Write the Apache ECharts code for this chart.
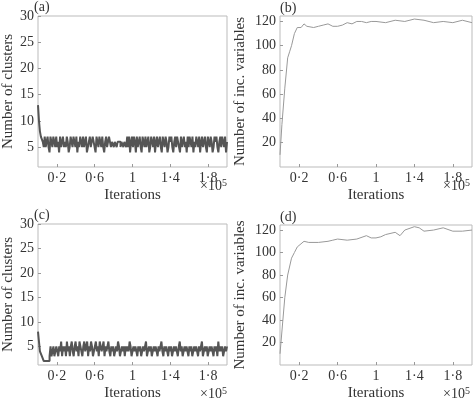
<!DOCTYPE html>
<html><head><meta charset="utf-8">
<script src="https://cdn.jsdelivr.net/npm/echarts@6/dist/echarts.min.js"></script>
<style>html,body{margin:0;padding:0;background:#fff}#c{width:474px;height:402px}</style>
</head><body><div id="c"></div>
<script>
const xTicks=[0.2,0.6,1,1.4,1.8];
const clusterTicks=[5,10,15,20,25,30];
const varTicks=[20,40,60,80,100,120];
const clustersA=[13,10,8,7,7,
6,5,7,5,6,7,5,4,7,6,5,7,6,5,7,5,6,4,7,5,6,7,5,6,5,7,6,4,5,7,6,5,7,6,5,7,4,6,5,7,6,5,7,5,6,7,4,5,6,7,5,6,7,6,5,4,7,6,5,7,6,5,7,5,4,6,7,5,6,7,
6,5,6,6,5,6,6,5,6,6,6,5,6,6,5,6,6,5,
7,5,7,4,6,7,5,7,6,4,7,5,6,7,5,4,7,6,5,7,5,6,7,4,5,7,6,5,7,4,6,7,5,6,7,5,4,7,6,5,7,6,4,5,7,6,7,5,4,6,7,5,7,6,5,4,7,5,6,7,5,6,4,7,5,7,6,5,7,4,6,5,7,6,5,7,4,6,7,5,6,7,5,4,7,6,5,7,6,4,5,7,6,7,5,4,6,7,5,7,6,5,7,4,6];
const clustersC=[8,6,4,4,3,3,2,2,2,2,2,2,3,5,3,4,5,3,4,5,4,3,5,4,6,3,5,4,5,3,6,4,5,3,5,6,4,3,5,6,4,5,3,6,5,4,3,5,6,4,5,6,3,5,4,6,5,3,4,5,6,4,5,3,6,5,4,5,6,3,5,4,5,6,4,3,5,4,5,3,4,5,4,6,5,3,4,5,4,5,3,5,4,5,4,6,5,3,4,5,4,5,4,3,5,4,5,3,4,5,4,5,6,3,4,5,4,5,3,4,5,4,5,4,3,5,4,5,6,4,3,5,4,5,4,3,5,4,5,3,4,5,4,5,4,3,5,6,4,5,3,4,5,4,5,4,3,5,4,5,3,4,5,4,5,4,3,5,4,5,6,3,4,5,4,5,3,4,5,4,5,4,3,5,4,5,3,6,4,5,4,5,3,4,5,4,5];
const varXB=[0,0.02,0.05,0.08,0.1,0.12,0.15,0.18,0.2,0.22,0.25,0.28,0.3,0.35,0.4,0.45,0.5,0.55,0.6,0.65,0.7,0.75,0.8,0.85,0.9,0.95,1.0,1.1,1.2,1.3,1.4,1.5,1.6,1.7,1.8,1.9,2.0];
const varB=[10,35,65,90,95,100,110,115,116,115,118,116,115,115,116,117,118,116,116,117,119,118,120,120,119,120,120,119,121,120,122,121,119,120,119,121,119];
const varXD=[0,0.03,0.05,0.08,0.12,0.15,0.18,0.2,0.25,0.3,0.4,0.5,0.55,0.6,0.7,0.8,0.9,0.95,1.0,1.05,1.1,1.2,1.25,1.3,1.4,1.45,1.5,1.6,1.7,1.8,1.9,2.0];
const varD=[10,40,60,80,95,100,105,106,110,109,109,110,111,112,111,112,115,113,113,114,116,118,115,120,123,122,119,120,122,119,119,120];

const F='Liberation Serif';
const pair=(arr)=>arr.map((v,i)=>[i*2/(arr.length-1),v]);
const zip=(xs,ys)=>xs.map((x,i)=>[x,ys[i]]);
const grids=[{left:33,top:16,width:194,height:151},{left:280,top:16,width:192,height:151},
{left:33,top:224,width:194,height:151},{left:280,top:225,width:192,height:150}];
const isCl=[true,false,true,false];
const chart=echarts.init(document.getElementById('c'));
const xAxis=grids.map((g,i)=>({type:'value',gridIndex:i,min:0,max:2,
 axisLine:{show:false},splitLine:{show:false},
 axisTick:{inside:true,length:3,lineStyle:{color:'#999'},customValues:xTicks},
 axisLabel:{customValues:xTicks,color:'#333',fontFamily:F,fontSize:14,margin:4,formatter:v=>String(v).replace('.','·')},
 name:'Iterations',nameLocation:'middle',nameGap:21,nameTextStyle:{color:'#333',fontFamily:F,fontSize:15}}));
const yAxis=grids.map((g,i)=>({type:'value',gridIndex:i,min:isCl[i]?1.2:0,max:isCl[i]?30:124.5,
 axisLine:{show:false},splitLine:{show:false},
 axisTick:{inside:true,length:3,lineStyle:{color:'#999'},customValues:isCl[i]?clusterTicks:varTicks},
 axisLabel:{customValues:isCl[i]?clusterTicks:varTicks,color:'#333',fontFamily:F,fontSize:14,margin:4},
 name:isCl[i]?'Number of clusters':'Number of inc. variables',nameLocation:'middle',nameGap:isCl[i]?22:32,
 nameTextStyle:{color:'#333',fontFamily:F,fontSize:15}}));
const gridOpts=grids.map(g=>Object.assign({show:true,borderColor:'#bbb',borderWidth:1},g));
const series=[
 {type:'line',xAxisIndex:0,yAxisIndex:0,data:pair(clustersA),step:'end',symbol:'none',lineStyle:{color:'#555',width:2}},
 {type:'line',xAxisIndex:1,yAxisIndex:1,data:zip(varXB,varB),symbol:'none',lineStyle:{color:'#999',width:1}},
 {type:'line',xAxisIndex:2,yAxisIndex:2,data:pair(clustersC),step:'end',symbol:'none',lineStyle:{color:'#555',width:2}},
 {type:'line',xAxisIndex:3,yAxisIndex:3,data:zip(varXD,varD),symbol:'none',lineStyle:{color:'#999',width:1}}];
const lbl=(t,x,y)=>({type:'text',left:x,top:y,style:{text:t,font:'14px "Liberation Serif"',fill:'#333'}});
const exp=(x,y)=>({type:'text',left:x,top:y,style:{text:'×10{s|5}',rich:{s:{fontSize:10,verticalAlign:'top',padding:[0,0,6,0],fontFamily:F,fill:'#333'}},font:'14px "Liberation Serif"',fill:'#333'}});
chart.setOption({animation:false,grid:gridOpts,xAxis,yAxis,series,
 graphic:[lbl('(a)',34,0),lbl('(b)',280,1),lbl('(c)',34,208),lbl('(d)',280,210),
  exp(200,178),exp(443,178),exp(200,386),exp(443,386)]});
</script></body></html>
